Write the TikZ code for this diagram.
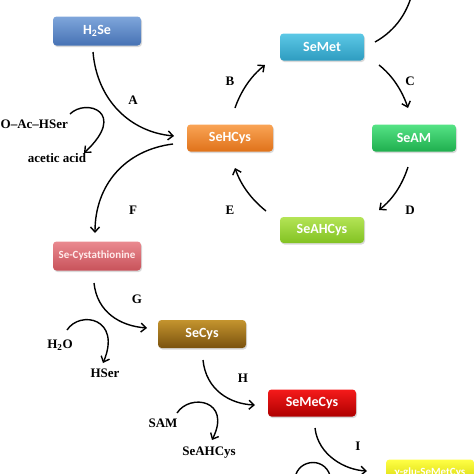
\documentclass[tikz,border=0pt]{standalone}
\usepackage{fontspec}
\setmainfont{Liberation Serif}
\newfontfamily\boxfont{Carlito}
\usetikzlibrary{arrows.meta,shadows}
\definecolor{hsTop}{HTML}{7FA6DB}\definecolor{hsBot}{HTML}{4672B4}
\definecolor{smTop}{HTML}{5CC8E6}\definecolor{smBot}{HTML}{2E9CC0}
\definecolor{shTop}{HTML}{F9A455}\definecolor{shBot}{HTML}{E0721A}
\definecolor{saTop}{HTML}{55E385}\definecolor{saBot}{HTML}{1FAE4E}
\definecolor{sahTop}{HTML}{B4E456}\definecolor{sahBot}{HTML}{82C222}
\definecolor{scTop}{HTML}{EA8A90}\definecolor{scBot}{HTML}{C8525A}
\definecolor{cyTop}{HTML}{C4942E}\definecolor{cyBot}{HTML}{7A520E}
\definecolor{mcTop}{HTML}{F51A1A}\definecolor{mcBot}{HTML}{AE0000}
\definecolor{glTop}{HTML}{FFFF45}\definecolor{glBot}{HTML}{CFCF00}
\tikzset{
  mbox/.style={rounded corners=3.5pt, inner sep=0pt, minimum width=86pt, minimum height=27pt,
    text=white, font=\boxfont\bfseries\fontsize{14}{14}\selectfont,
    drop shadow={shadow xshift=1pt, shadow yshift=-1.5pt, opacity=0.3}},
  shd/.style 2 args={top color=#1, bottom color=#2},
  rxn/.style={line width=1.4pt, -{Straight Barb[length=5pt,width=9pt]}},
  plain/.style={line width=1.4pt},
  lab/.style={font=\bfseries\fontsize{13}{13}\selectfont, inner sep=0pt},
}
\begin{document}
\begin{tikzpicture}[x=1pt,y=-1pt]
\useasboundingbox (0,0) rectangle (474,474);
% boxes
\node[mbox, shd={hsTop}{hsBot}, minimum width=88pt, minimum height=29pt] (h2se) at (97,31) {H\textsubscript{2}Se};
\node[mbox, shd={smTop}{smBot}, minimum width=84pt] (semet) at (322,47) {SeMet};
\node[mbox, shd={shTop}{shBot}] (sehcys) at (230,138) {SeHCys};
\node[mbox, shd={saTop}{saBot}, minimum width=84pt] (seam) at (414,138) {SeAM};
\node[mbox, shd={sahTop}{sahBot}, minimum width=84pt, minimum height=26pt] (seahcys) at (322,230) {SeAHCys};
\node[mbox, shd={scTop}{scBot}, minimum width=88pt, minimum height=29pt, text=white!92!red, font=\boxfont\bfseries\fontsize{11}{11}\selectfont] (secyst) at (97,256) {Se-Cystathionine};
\node[mbox, shd={cyTop}{cyBot}, minimum width=88pt, minimum height=28pt] (secys) at (202,334) {SeCys};
\node[mbox, shd={mcTop}{mcBot}, minimum width=88pt] (semecys) at (312,403) {SeMeCys};
\node[mbox, shd={glTop}{glBot}, minimum width=88pt, font=\boxfont\bfseries\fontsize{11}{11}\selectfont] (glu) at (430,473) {γ-glu-SeMetCys};
% text nodes
\node[lab, anchor=east] (oac) at (68,124) {O–Ac–HSer};
\node[lab] (acet) at (57,158) {acetic acid};
\node[lab] (h2o) at (60,345) {H\textsubscript{2}O};
\node[lab] (hser) at (105,373) {HSer};
\node[lab] (sam) at (163,423) {SAM};
\node[lab] (sahc) at (209,453) {SeAHCys};
\node[lab] (la) at (133,100) {A};
\node[lab] (lb) at (230,81) {B};
\node[lab] (lc) at (410,81) {C};
\node[lab] (ld) at (410,210) {D};
\node[lab] (le) at (230,210) {E};
\node[lab] (lf) at (133,210) {F};
\node[lab] (lg) at (137,299) {G};
\node[lab] (lh) at (243,378) {H};
\node[lab] (li) at (358,446) {I};
% coordinates
\coordinate (a1) at (93,52);   \coordinate (a2) at (174,136);
\coordinate (o1) at (70,114);  \coordinate (o2) at (84,153);
\coordinate (f1) at (173,144); \coordinate (f2) at (95,233);
\coordinate (b1) at (235,108); \coordinate (b2) at (265,65);
\coordinate (c1) at (379,65);  \coordinate (c2) at (408,108);
\coordinate (d1) at (408,167); \coordinate (d2) at (379,210);
\coordinate (e1) at (266,211); \coordinate (e2) at (235,168);
\coordinate (t1) at (375,42);  \coordinate (t2) at (412,-6);
\coordinate (g1) at (94,283);  \coordinate (g2) at (147,328);
\coordinate (w1) at (67,330);  \coordinate (w2) at (103,363);
\coordinate (hh1) at (203,360); \coordinate (hh2) at (255,405);
\coordinate (s1) at (177,413); \coordinate (s2) at (212,440);
\coordinate (i1) at (315,428); \coordinate (i2) at (367,471);
\coordinate (x1) at (295,478); \coordinate (x2) at (331,480);
% connectors
\draw[rxn] (a1) .. controls (97,100) and (130,132) .. (a2);
\draw[rxn] (o1) .. controls (86,98) and (128,112) .. (o2);
\draw[rxn] (f1) .. controls (125,150) and (95,185) .. (f2);
\draw[rxn] (b1) .. controls (240.8,91.2) and (251,76) .. (b2);
\draw[rxn] (c1) .. controls (393,76) and (402.2,91.2) .. (c2);
\draw[rxn] (d1) .. controls (402.2,184.8) and (393,199) .. (d2);
\draw[rxn] (e1) .. controls (251,199) and (240.8,184.8) .. (e2);
\draw[plain] (t1) .. controls (393,32) and (406,16) .. (t2);
\draw[rxn] (g1) .. controls (97,312) and (120,326) .. (g2);
\draw[rxn] (w1) .. controls (80,310) and (122,318) .. (w2);
\draw[rxn] (hh1) .. controls (206,390) and (230,404) .. (hh2);
\draw[rxn] (s1) .. controls (190,393) and (232,400) .. (s2);
\draw[rxn] (i1) .. controls (318,455) and (345,470) .. (i2);
\draw[plain] (x1) .. controls (298,458) and (328,456) .. (x2);
\end{tikzpicture}
\end{document}
